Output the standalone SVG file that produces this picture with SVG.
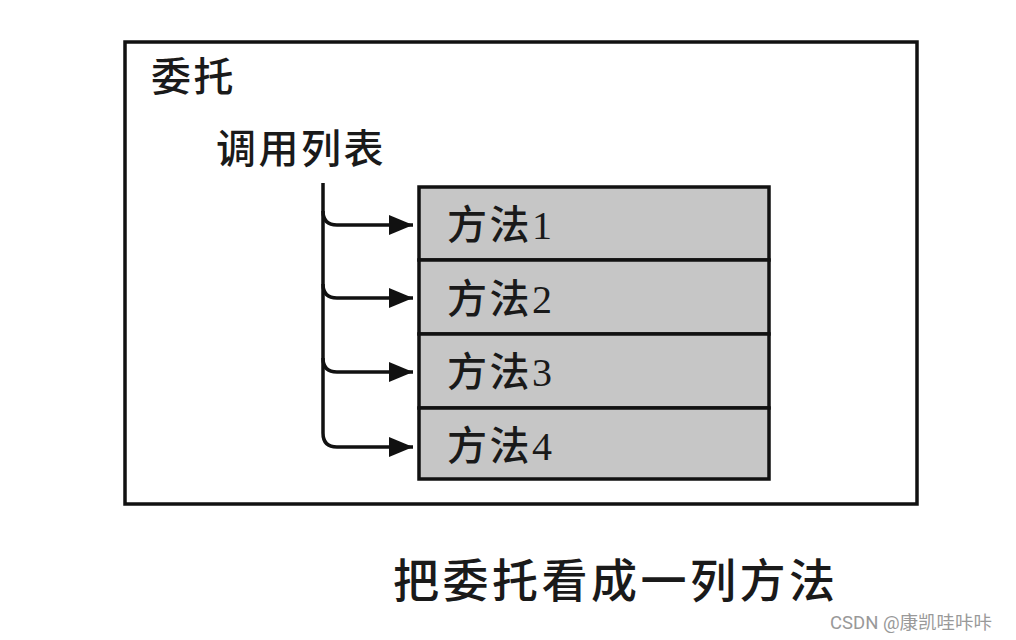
<svg xmlns="http://www.w3.org/2000/svg" width="1016" height="640" viewBox="0 0 1016 640">
<style>
.cjk{font-family:"Liberation Serif","Noto Sans CJK SC",serif;fill:#1a1a1a;font-weight:500}
.lbl{font-size:40px;letter-spacing:2.5px}
.row{fill:#c6c6c6;stroke:#111;stroke-width:3.5}
.conn{fill:none;stroke:#111;stroke-width:3.5}
</style>
<defs>
<marker id="ah" markerUnits="userSpaceOnUse" markerWidth="26" markerHeight="22" refX="24" refY="11" orient="auto">
<path d="M0,1 L24,11 L0,21 Z" fill="#111"/>
</marker>
</defs>
<rect width="1016" height="640" fill="#fff"/>
<g id="delegate">
<rect x="125" y="42" width="792" height="462" fill="none" stroke="#111" stroke-width="3.5"/>
<text class="cjk lbl" x="151" y="91">委托</text>
<text class="cjk lbl" x="216" y="163">调用列表</text>
</g>
<g id="method1"><rect class="row" x="419" y="187" width="350" height="73"/><text class="cjk lbl" x="447" y="239">方法1</text></g>
<g id="method2"><rect class="row" x="419" y="260" width="350" height="74"/><text class="cjk lbl" x="447" y="313">方法2</text></g>
<g id="method3"><rect class="row" x="419" y="334" width="350" height="74"/><text class="cjk lbl" x="447" y="386">方法3</text></g>
<g id="method4"><rect class="row" x="419" y="408" width="350" height="71"/><text class="cjk lbl" x="447" y="460">方法4</text></g>
<g id="connectors">
<path class="conn" d="M323 183 V433 Q323 447 337 447 H413" marker-end="url(#ah)"/>
<path class="conn" d="M323 211 Q323 225 337 225 H413" marker-end="url(#ah)"/>
<path class="conn" d="M323 284 Q323 298 337 298 H413" marker-end="url(#ah)"/>
<path class="conn" d="M323 358 Q323 372 337 372 H413" marker-end="url(#ah)"/>
</g>
<text class="cjk" x="393" y="597" font-size="46" textLength="442" lengthAdjust="spacing">把委托看成一列方法</text>
<text x="830" y="629" font-family="Roboto,'Noto Sans CJK SC',sans-serif" font-size="18.5" fill="#999">CSDN @康凯哇咔咔</text>
</svg>
